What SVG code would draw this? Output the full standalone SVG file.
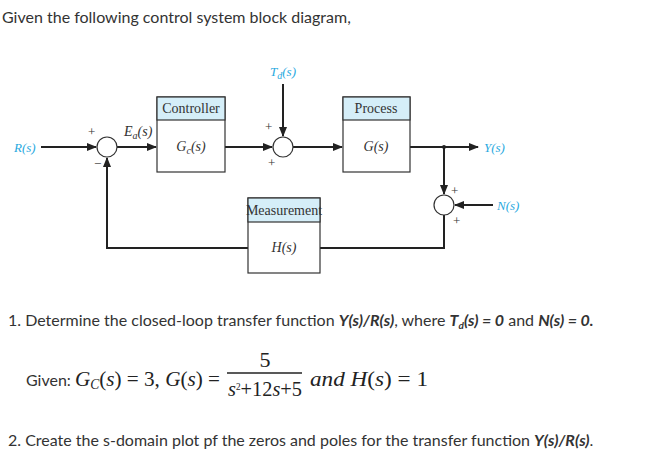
<svg xmlns="http://www.w3.org/2000/svg" width="654" height="470" viewBox="0 0 654 470">
<style>
.b{fill:#fff;stroke:#333;stroke-width:1.2}
.h{fill:#d5eef8;stroke:#333;stroke-width:1.2}
.ln{fill:none;stroke:#222;stroke-width:2}
.t{font-family:"Liberation Serif",serif;font-size:14px;fill:#333}
.i{font-family:"Liberation Serif",serif;font-style:italic;font-size:14px;fill:#333}
.bl{font-family:"Liberation Serif",serif;font-style:italic;font-size:13px;fill:#29a9e0}
.s{font-family:"Liberation Serif",serif;font-size:13px;fill:#333}
.p{font-family:Lato,sans-serif;font-size:16px;fill:#333}
.m{font-family:"Liberation Serif",serif;font-size:22px;fill:#222}
</style>
<defs><marker id="a" markerWidth="10" markerHeight="8" refX="9" refY="4" orient="auto" markerUnits="userSpaceOnUse"><path d="M0,0L10,4L0,8z" fill="#222"/></marker></defs>
<text class="p" x="2" y="23" font-size="15">Given the following control system block diagram,</text>
<g id="connectors">
<path class="ln" d="M41,147H96" marker-end="url(#a)"/>
<path class="ln" d="M117,147H156" marker-end="url(#a)"/>
<path class="ln" d="M225,147H272" marker-end="url(#a)"/>
<path class="ln" d="M283,84V136" marker-end="url(#a)"/>
<path class="ln" d="M293,147H342" marker-end="url(#a)"/>
<path class="ln" d="M410,147H478" marker-end="url(#a)"/>
<path class="ln" d="M444,147V194" marker-end="url(#a)"/>
<circle cx="444" cy="147" r="2" fill="#222"/>
<path class="ln" d="M493,205H455" marker-end="url(#a)"/>
<path class="ln" d="M444,215V248H320"/>
<path class="ln" d="M248,248H107V158" marker-end="url(#a)"/>
</g>
<g id="R"><text class="bl" x="14" y="152">R(s)</text></g>
<g id="sum1"><circle class="b" cx="107" cy="147" r="10"/><text class="s" x="88" y="136">+</text><text class="s" x="94" y="168">−</text><text class="i" x="124" y="136">E<tspan font-size="10" dy="3">a</tspan><tspan dy="-3">(s)</tspan></text></g>
<g id="controller"><rect class="b" x="157" y="97" width="68" height="75"/><rect class="h" x="157" y="97" width="68" height="23"/><text class="t" x="191" y="113" text-anchor="middle">Controller</text><text class="i" x="191" y="151" text-anchor="middle">G<tspan font-size="10" dy="3">c</tspan><tspan dy="-3">(s)</tspan></text></g>
<g id="Td"><text class="bl" x="283" y="76" text-anchor="middle">T<tspan font-size="10" dy="3">d</tspan><tspan dy="-3">(s)</tspan></text></g>
<g id="sum2"><circle class="b" cx="283" cy="147" r="10"/><text class="s" x="265" y="131">+</text><text class="s" x="268" y="167">+</text></g>
<g id="process"><rect class="b" x="343" y="97" width="67" height="75"/><rect class="h" x="343" y="97" width="67" height="23"/><text class="t" x="376" y="113" text-anchor="middle">Process</text><text class="i" x="376" y="151" text-anchor="middle">G(s)</text></g>
<g id="Y"><text class="bl" x="484" y="152">Y(s)</text></g>
<g id="sum3"><circle class="b" cx="444" cy="205" r="10"/><text class="s" x="451" y="195">+</text><text class="s" x="453" y="225">+</text></g>
<g id="N"><text class="bl" x="497" y="210">N(s)</text></g>
<g id="measurement"><rect class="b" x="248" y="198" width="72" height="75"/><rect class="h" x="248" y="198" width="72" height="24"/><text class="t" x="284" y="215" text-anchor="middle" font-size="13">Measurement</text><text class="i" x="284" y="252" text-anchor="middle">H(s)</text></g>
<text class="p" x="8" y="326">1. Determine the closed-loop transfer function <tspan font-weight="bold" font-style="italic">Y(s)/R(s)</tspan>, where <tspan font-weight="bold" font-style="italic">T<tspan font-size="10" dy="3">d</tspan><tspan dy="-3">(s) = 0</tspan></tspan> and <tspan font-weight="bold" font-style="italic">N(s) = 0.</tspan></text>
<text class="p" x="26" y="386" font-size="13">Given:</text>
<text class="m" x="75" y="386" textLength="145" lengthAdjust="spacingAndGlyphs"><tspan font-style="italic">G</tspan><tspan font-size="14" dy="3" font-style="italic">C</tspan><tspan dy="-3">(</tspan><tspan font-style="italic">s</tspan>) = 3, <tspan font-style="italic">G</tspan>(<tspan font-style="italic">s</tspan>) =</text>
<text class="m" x="265" y="367" font-size="15" text-anchor="middle">5</text>
<line x1="227" y1="373" x2="302" y2="373" stroke="#222" stroke-width="1.3"/>
<text class="m" x="228" y="396" font-size="15" textLength="74" lengthAdjust="spacingAndGlyphs"><tspan font-style="italic">s</tspan><tspan font-size="10" dy="-6">2</tspan><tspan dy="6">+12</tspan><tspan font-style="italic">s</tspan>+5</text>
<text class="m" x="310" y="386" textLength="118" lengthAdjust="spacingAndGlyphs"><tspan font-style="italic">and H</tspan>(<tspan font-style="italic">s</tspan>) = 1</text>
<text class="p" x="8" y="446">2. Create the s-domain plot pf the zeros and poles for the transfer function <tspan font-weight="bold" font-style="italic">Y(s)/R(s)</tspan>.</text>
</svg>
